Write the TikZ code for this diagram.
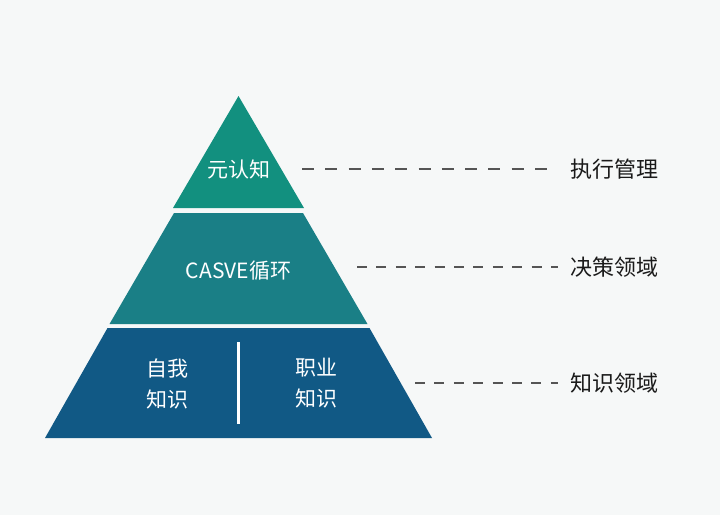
\documentclass[tikz,border=0pt]{standalone}
\usepackage{fontspec}
\newfontfamily\cjk{Noto Sans CJK SC}
\definecolor{bgc}{HTML}{F6F8F8}
\definecolor{topc}{HTML}{12907F}
\definecolor{midc}{HTML}{1A7F86}
\definecolor{botc}{HTML}{115985}
\definecolor{txtc}{HTML}{1A1A1A}
\definecolor{dashc}{HTML}{555555}
\tikzset{
  layertxt/.style={font=\cjk\fontsize{21}{31}\selectfont, text=white, align=center, inner sep=0pt},
  sidetxt/.style={font=\cjk\fontsize{22}{26}\selectfont, text=txtc, anchor=west, inner sep=0pt},
  guide/.style={draw=dashc, line width=1.3pt},
}
\begin{document}
\begin{tikzpicture}[x=1pt,y=-1pt]
\fill[bgc] (0,0) rectangle (720,515);
\useasboundingbox (0,0) rectangle (720,515);
% layers
\fill[topc] (238.5,96) -- (304,208) -- (173,208) -- cycle;
\fill[midc] (174,213) -- (303,213) -- (367.5,324) -- (109.5,324) -- cycle;
\fill[botc] (107.5,328) -- (369.5,328) -- (432,438) -- (45,438) -- cycle;
\coordinate (dvt) at (238.5,342);
\coordinate (dvb) at (238.5,424);
\draw[white, line width=3pt] (dvt) -- (dvb);
% layer texts
\node[layertxt] (meta) at (238.5,170) {元认知};
\node[layertxt] (casve) at (238.5,271) {CASVE循环};
\node[layertxt] (self) at (167,383.5) {自我\\知识};
\node[layertxt] (job) at (316,383.5) {职业\\知识};
% side labels
\node[sidetxt] (l1) at (570,169) {执行管理};
\node[sidetxt] (l2) at (570,267) {决策领域};
\node[sidetxt] (l3) at (570,383) {知识领域};
\coordinate (s1) at (302,169);
\coordinate (s2) at (357,267);
\coordinate (s3) at (415,383);
\draw[guide, line width=1.8pt, dash pattern=on 12pt off 11.3pt] (s1) -- ([xshift=-23pt]l1.west);
\draw[guide, dash pattern=on 10pt off 9.4pt] (s2) -- ([xshift=-12pt]l2.west);
\draw[guide, dash pattern=on 10pt off 9.4pt] (s3) -- ([xshift=-12pt]l3.west);
\end{tikzpicture}
\end{document}
